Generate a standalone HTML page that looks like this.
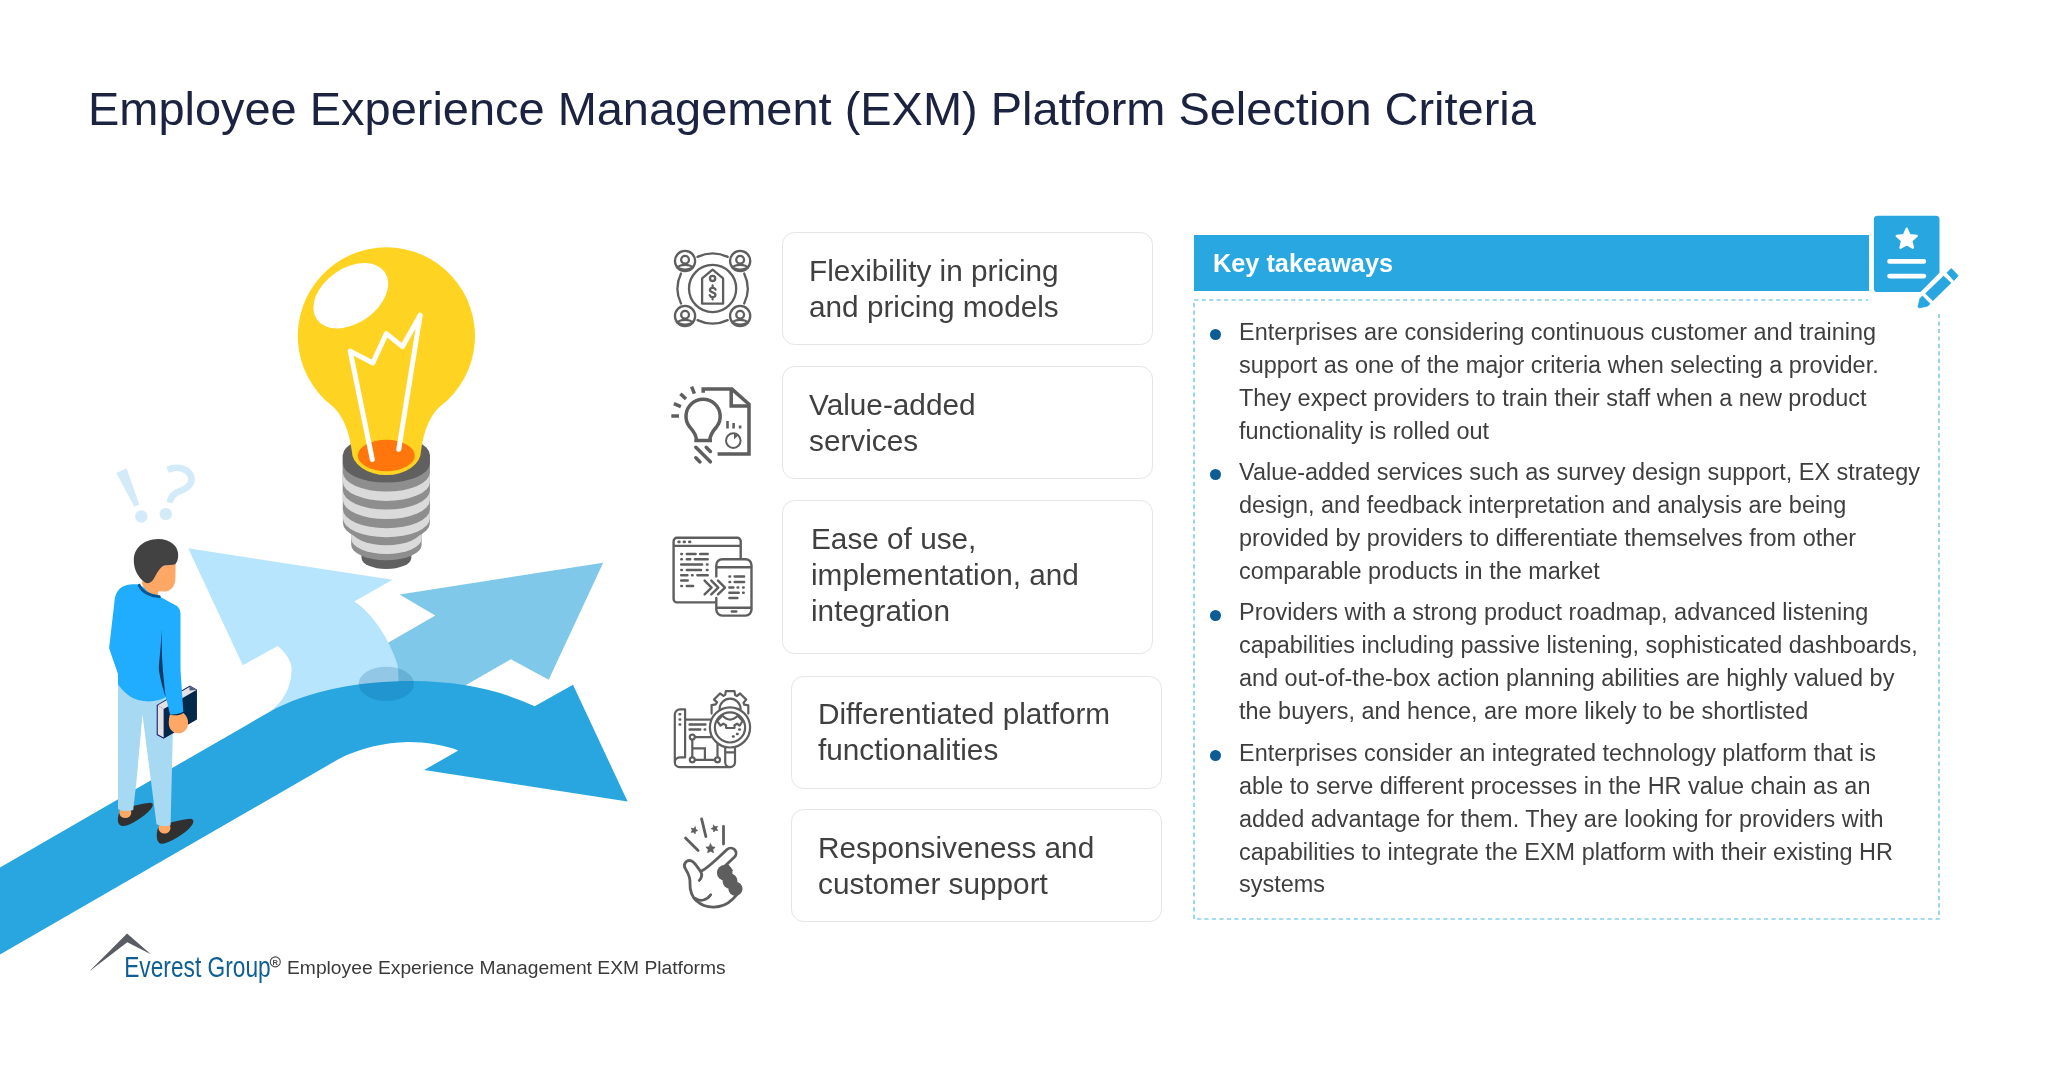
<!DOCTYPE html>
<html>
<head>
<meta charset="utf-8">
<title>EXM Platform Selection Criteria</title>
<style>
*{margin:0;padding:0;box-sizing:border-box;}
html,body{width:2048px;height:1072px;background:#fff;overflow:hidden;}
body{font-family:"Liberation Sans",sans-serif;position:relative;color:#3d3d3d;}
#title,.box .t,.bl,#foot,#hdr span,#logo{will-change:transform;}
.abs{position:absolute;}
#title{left:88px;top:82px;font-size:46.95px;line-height:54px;color:#1b2341;white-space:nowrap;}
.box{position:absolute;width:371px;border:1.5px solid #e5e5e5;border-radius:12.5px;background:#fff;}
.box .t{position:absolute;left:26px;font-size:29.75px;line-height:36px;color:#404040;white-space:nowrap;}
#hdr{left:1194px;top:235px;width:675px;height:56px;background:#29a7e1;}
#hdr span{position:absolute;left:19px;top:13px;font-size:25.3px;line-height:30px;font-weight:bold;color:#fff;white-space:nowrap;}
#dash{left:1193px;top:299px;width:747px;height:621px;}
.bl{position:absolute;left:1239px;font-size:23.45px;line-height:32.85px;color:#3e3e3e;white-space:nowrap;}
.dot{position:absolute;left:1210px;width:11px;height:11px;border-radius:50%;background:#0d5c94;}
#foot{left:287px;top:955.6px;font-size:19.26px;line-height:24px;color:#3a3a3a;white-space:nowrap;}
</style>
</head>
<body>
<div id="title" class="abs">Employee Experience Management (EXM) Platform Selection Criteria</div>

<!-- ILLUSTRATION -->
<svg id="illus" class="abs" style="left:0;top:200px" width="660" height="800" viewBox="0 200 660 800">
<path d="M603.2,562.7 L399.5,594.4 L435.3,615.4 L372,652 L372,700 L440,700 L510.9,659.3 L548.7,679.7 Z" fill="#80c8ea"/>
<path d="M188.2,548.2 L392.5,579.8 L354.2,601.4 C372,612 390,640 397.3,664.3 C399,672 398.5,690 398,700 L250,723 L269.4,711.9 C283,702 291,688 291.7,669.9 C291.5,661 286,653 277.8,646.1 L242.8,665.2 Z" fill="#b6e5fd"/>
<path d="M-5,870.3 L269.4,711.9 C310,690 360,681 413.5,681.1 C460,681.5 500,690 534.7,706.3 L573,684.8 L627.6,801.5 L424.1,770.1 L458.3,750.5 C445,745.5 425,742 407.9,742.1 C385,742.5 360,748 337.9,759.5 L-5,957.5 Z" fill="#29a6e0"/>
<ellipse cx="386.3" cy="683.9" rx="27.7" ry="17.1" fill="#07558c" opacity="0.2"/>
<path d="M361.5,540 V558.1 A24.9,10.9 0 0 0 411.3,558.1 V540 Z" fill="#606060"/>
<path d="M351.2,525 V544.9 A35.2,15.4 0 0 0 421.6,544.9 V525 Z" fill="#8e8e8e"/>
<path d="M351.2,525 V538.6 A35.2,15.4 0 0 0 421.6,538.6 V525 Z" fill="#dadada"/>
<path d="M351.2,520 V529.9 A35.2,15.4 0 0 0 421.6,529.9 V520 Z" fill="#8e8e8e"/>
<path d="M342.9,455 V523.0 A43.5,19.0 0 0 0 429.9,523.0 V455 Z" fill="#8e8e8e"/>
<path d="M342.9,455 V518.3 A43.5,19.0 0 0 0 429.9,518.3 V455 Z" fill="#dadada"/>
<path d="M342.9,455 V509.3 A43.5,19.0 0 0 0 429.9,509.3 V455 Z" fill="#8e8e8e"/>
<path d="M342.9,455 V500.1 A43.5,19.0 0 0 0 429.9,500.1 V455 Z" fill="#dadada"/>
<path d="M342.9,455 V490.6 A43.5,19.0 0 0 0 429.9,490.6 V455 Z" fill="#8e8e8e"/>
<path d="M342.9,455 V481.9 A43.5,19.0 0 0 0 429.9,481.9 V455 Z" fill="#dadada"/>
<path d="M342.9,455 V472.6 A43.5,19.0 0 0 0 429.9,472.6 V455 Z" fill="#8e8e8e"/>
<path d="M342.9,455 V463.6 A43.5,19.0 0 0 0 429.9,463.6 V455 Z" fill="#606060"/>
<ellipse cx="386.4" cy="455" rx="43.5" ry="19.0" fill="#606060"/>
<path d="M331.9,405.8 A88.6,88.6 0 1 1 440.9,405.8 C431.4,413.2 423.5,430 421,451 A34.6,24.1 0 0 1 351.8,451 C349.3,430 341.4,413.2 331.9,405.8 Z" fill="#ffd321"/>
<ellipse cx="350.8" cy="295.7" rx="41.4" ry="27.5" transform="rotate(-35 350.8 295.7)" fill="#fff"/>
<ellipse cx="386.3" cy="455.5" rx="28.5" ry="15.7" fill="#ff770c"/>
<path d="M372.3,459.6 L350.2,351.1 L372.8,363 L386.3,333.6 L402.5,346.6 L420.2,315.2 L398.8,449.3" fill="none" stroke="#fff" stroke-width="5" stroke-linecap="round" stroke-linejoin="round"/>
<path d="M116.3,473 L126.6,468.2 L139.2,504.6 L134.4,506.8 Z" fill="#d3eaf8"/>
<circle cx="141.3" cy="516.5" r="6.2" fill="#d3eaf8"/>
<path d="M167.6,469.8 C172,467.8 178,467.2 183,468.8 C190,471 193.5,478 190.5,483.5 C187.5,489 181,490.5 176.5,492.7 C172.5,494.7 170.6,498 169.7,502.6" fill="none" stroke="#d3eaf8" stroke-width="6.6"/>
<circle cx="165.8" cy="514.1" r="6.2" fill="#d3eaf8"/>
<path d="M119.5,812 C125,808 140,803.5 150,802.8 C155,803 153,808 147,813 C139,820 127,827 122,826 C117,825 117,818 119.5,812 Z" fill="#303030"/>
<path d="M158,828 C164,824 180,819.5 190,818.8 C196,819 193.5,825 187,830.5 C179,837.5 166,844.5 161,843.7 C156,842.5 156,834 158,828 Z" fill="#303030"/>
<ellipse cx="125.3" cy="812.5" rx="6" ry="5.5" fill="#ffa866"/>
<ellipse cx="164.5" cy="828" rx="6" ry="5.5" fill="#ffa866"/>
<path d="M118,680 L118,809 C123,811.5 129,811.5 133.2,810 L136.6,780 L142.5,714.6 L156.5,824.3 C161,826.5 166.5,826.5 170.6,825.2 L172.8,733 L172,690 Z" fill="#a8d9f2"/>
<path d="M156.7,705 L189.9,685.6 L196.9,689.5 L196.9,719.5 L163.5,738.8 L156.7,734.9 Z" fill="#1a1f6b"/>
<path d="M157.8,705.3 L190.3,686.4 L196.4,689.9 L163.6,708.9 Z" fill="#e2e2e2"/>
<path d="M157.8,705.3 L163.6,708.9 L163.6,737.6 L157.8,734.2 Z" fill="#e2e2e2"/>
<path d="M190.3,686.4 L189.5,687 L189.5,690.5 L196.4,689.9 Z" fill="#45607a"/>
<path d="M164.6,709.3 L196.6,690.6 L196.6,719.2 L164.6,737.8 Z" fill="#03294a"/>
<path d="M139,584.6 C133,583.6 124,584.5 119.5,589 C115.5,593 114.7,598 114.3,603 L109.1,648.3 L118,673.9 L118,684.3 C124,693 131,698 138,700 C147,702.3 158,702 165.8,697.1 L170,714.2 C174,714.8 179.5,714 183.3,711.8 L180.5,670 L180.5,613.3 C180,608.5 177.5,606 175.1,605.1 L159.5,596.5 Z" fill="#20adff"/>
<path d="M161.7,629 C161.2,645 159.3,660 158.8,668 C160,680 163.5,690 165.6,697 C163.8,680 162.3,665 162,655 Z" fill="#063a66"/>
<path d="M170,714.5 C175,716 180,715.5 183.5,713 C187,716 188.5,720 188,724 C187.5,730 183,733.5 178,733.3 C172.5,733 169,729 168.8,723.5 C168.7,719.5 169.3,716.5 170,714.5 Z" fill="#ffa866"/>
<path d="M141.8,583 L147,570 L175.6,563 L175.4,578 C175.4,587 170,591.6 163.5,591.6 L158.5,591.3 L157.8,595.6 C150,594.5 144,590 141.8,583 Z" fill="#ffa866"/>
<path d="M139.2,585.3 C142,592 150,596.2 159.3,596.6" fill="none" stroke="#06568f" stroke-width="2.9" stroke-linecap="round"/>
<path d="M158,539.1 C170,539 178.5,546 178.2,555.5 C178.1,559.5 177,562.5 175.1,564.3 C172,565.3 168,565.2 164.6,565.5 C159,567 156.5,575 153,580 C151,583 147.5,584 145,582.5 C138,577.5 133.5,569 133.8,560 C134,548 144,539.3 158,539.1 Z" fill="#424242"/>
</svg>

<!-- BOXES -->
<div class="box" style="left:782px;top:232px;height:113px;"><div class="t" style="top:19.5px;">Flexibility in pricing<br>and pricing models</div></div>
<div class="box" style="left:782px;top:366px;height:113px;"><div class="t" style="top:19.5px;">Value-added<br>services</div></div>
<div class="box" style="left:782px;top:500px;height:154px;"><div class="t" style="left:27.5px;top:20px;">Ease of use,<br>implementation, and<br>integration</div></div>
<div class="box" style="left:790.5px;top:675.5px;height:113px;"><div class="t" style="left:26.5px;top:19.5px;">Differentiated platform<br>functionalities</div></div>
<div class="box" style="left:790.5px;top:809px;height:113px;"><div class="t" style="left:26.5px;top:19.5px;">Responsiveness and<br>customer support</div></div>

<!-- ICONS -->
<svg id="icons" class="abs" style="left:660px;top:230px" width="110" height="700" viewBox="660 230 110 700" fill="none" stroke="#5e5e5e" stroke-width="2.4" stroke-linecap="round" stroke-linejoin="round">
<g stroke-width="2.3">
<circle cx="712.6" cy="288.5" r="23.6"/>
<path d="M697.53,256.91 A35,35 0 0 1 727.67,256.91"/>
<path d="M744.19,273.43 A35,35 0 0 1 744.19,303.57"/>
<path d="M727.67,320.09 A35,35 0 0 1 697.53,320.09"/>
<path d="M681.01,303.57 A35,35 0 0 1 681.01,273.43"/>
<g transform="translate(685.05,261)"><circle r="10.1"/><circle cx="0" cy="-1.3" r="3.9"/><path d="M-7.5,6.7 C-6.4,4.6 -3.6,3.8 0,3.8 C3.6,3.8 6.4,4.6 7.5,6.7"/><path d="M-5.3,7.2 Q0,9.6 5.3,7.2" stroke-width="1.7"/></g>
<g transform="translate(740.15,261)"><circle r="10.1"/><circle cx="0" cy="-1.3" r="3.9"/><path d="M-7.5,6.7 C-6.4,4.6 -3.6,3.8 0,3.8 C3.6,3.8 6.4,4.6 7.5,6.7"/><path d="M-5.3,7.2 Q0,9.6 5.3,7.2" stroke-width="1.7"/></g>
<g transform="translate(685.05,316)"><circle r="10.1"/><circle cx="0" cy="-1.3" r="3.9"/><path d="M-7.5,6.7 C-6.4,4.6 -3.6,3.8 0,3.8 C3.6,3.8 6.4,4.6 7.5,6.7"/><path d="M-5.3,7.2 Q0,9.6 5.3,7.2" stroke-width="1.7"/></g>
<g transform="translate(740.15,316)"><circle r="10.1"/><circle cx="0" cy="-1.3" r="3.9"/><path d="M-7.5,6.7 C-6.4,4.6 -3.6,3.8 0,3.8 C3.6,3.8 6.4,4.6 7.5,6.7"/><path d="M-5.3,7.2 Q0,9.6 5.3,7.2" stroke-width="1.7"/></g>
<path d="M712.6,269.7 L723.1,278.4 V303.7 H702.1 V278.4 Z"/>
<circle cx="712.6" cy="278.4" r="2.6"/>
<path d="M715.6,289.8 C714.8,287.1 710.2,287.1 709.9,290 C709.7,293 715.6,291.7 715.5,295 C715.3,297.9 710.6,297.8 709.6,295.2 M712.6,285.3 V287.3 M712.6,297.4 V299.4" stroke-width="2.2"/>
</g>
<g stroke-width="3.5" stroke-linecap="butt" stroke-linejoin="miter">
<path d="M703.2,392.8 V389.1 H731.9 L749,404.2 V454.1 H717.6"/>
<path d="M731.2,389.5 V406 H749"/>
<path d="M696.5,440.4 C696.3,434 692.8,430.5 689.6,426.8 A17.1,17.1 0 1 1 716.6,426.8 C713.4,430.5 710,434 709.8,440.4 M694.3,440.4 H712" stroke-linejoin="round"/>
<path d="M671.3,415.9 H679 M673.9,403.7 L680.9,406.7 M680.4,393.7 L686,399.1 M691.6,386.7 L694.4,393.7"/>
<path d="M695.8,447.3 L710.4,461.8 M706.2,447.3 L710.4,451.5 M695.8,457.8 L700,461.9" stroke-linecap="round"/>
<path d="M727.5,420.9 V428.6 M733.6,423 V428.6 M740.1,425.4 V428.6" stroke-width="2.6"/>
<circle cx="733.3" cy="440.6" r="7.3" stroke-width="2"/>
<path d="M734,433.6 V439.6 L738.1,435.5 Z" fill="#5e5e5e" stroke="none"/>
</g>
<g stroke-width="2.4">
<path d="M740.7,558 V541.2 a3.4,3.4 0 0 0 -3.4,-3.4 H677 a3.4,3.4 0 0 0 -3.4,3.4 V599 a3.4,3.4 0 0 0 3.4,3.4 H715.6"/>
<path d="M673.6,545.9 H740.7" stroke-linecap="butt"/>
<path d="M678.6,541.9 h0.8 M683.9,541.9 h0.8 M689.3,541.9 h0.8" stroke-width="2.6"/>
<path d="M681.3000000000001,553.9 h0.6 M686.8,553.9 H695.6 M700.2,553.9 H707.7 M681.3000000000001,559.2 h0.6 M686.8,559.2 H690.2 M694.9,559.2 H707.7 M681.2,564.6 H702.1 M706.9000000000001,564.6 h0.6 M681.3000000000001,569.9 h0.6 M686.8,569.9 H701 M706.9000000000001,569.9 h0.6 M681.2,575.3 H687.4 M692.0,575.3 h0.6 M697.4,575.3 H707.7 M681.2,580.6 H687.7 M681.3000000000001,586.0 h0.6 M686.8,586.0 H693.1 M729.5,576.6 h0.6 M734.7,576.6 H744.1 M729.5,582.0 h0.6 M734.7,582.0 H744.1 M729.4,587.4 H733.4 M737.6,587.4 h0.6 M743.1,587.4 h0.6 M729.4,592.8 H738.7 M743.1,592.8 h0.6 M729.4,598.1 H737.4 " stroke-width="2.5"/>
<path d="M704.6,580.6 L711.6,587.6 L704.6,594.4"/>
<path d="M711.3000000000001,580.6 L718.3000000000001,587.6 L711.3000000000001,594.4"/>
<path d="M718.0,580.6 L725.0,587.6 L718.0,594.4"/>
<path d="M716.3,576.4 V565.2 a6,6 0 0 1 6,-6 H745.5 a6,6 0 0 1 6,6 V609.6 a6,6 0 0 1 -6,6 H722.3 a6,6 0 0 1 -6,-6 V597.9"/>
<path d="M716.3,567.3 H751.5 M716.3,607.7 H751.5" stroke-linecap="butt"/>
<path d="M731.9,611.5 H736.2" stroke-width="2.6"/>
</g>
<g stroke-width="2.2">
<path d="M685.1,709.4 H680 a5.2,5.2 0 0 0 -5.2,5.2 V762.3 a4.9,4.9 0 0 0 4.9,4.9 H730.1 a4.9,4.9 0 0 0 4.9,-4.9 V748.5 M685.1,709.4 V757.4 H679.9 a5,5 0 0 0 -5.1,5"/>
<path d="M679.6,714.2 h0.6 M679.6,719.4 h0.6 M679.6,724.6 h0.6" stroke-width="2.5"/>
<path d="M685.1,719.6 H711.2" stroke-linecap="butt"/>
<path d="M689.6,724.6 H705.4 M689.6,729.4 H700.2 M704.7,729.4 h0.5" stroke-width="2.5"/>
<circle cx="692.3" cy="737.1" r="2.5"/>
<circle cx="692.3" cy="759.8" r="2.5"/>
<circle cx="717.5" cy="759.8" r="2.5"/>
<path d="M695,737.1 H711.8 M692.3,739.8 V757.1 M695,759.8 H714.8 M717.5,757.1 V743.6 M692.3,748.4 H704.9 V759.8" stroke-linecap="butt" stroke-linejoin="miter"/>
<circle cx="730" cy="727.4" r="20.1"/>
<circle cx="730" cy="727.4" r="15.1"/>
<path d="M725.2,747 V762.3 a4.9,4.9 0 0 0 4.9,4.9 M725.2,752.3 H735" stroke-linecap="butt"/>
<path d="M711.6,713.6 L711.6,705.2 L715.8,704.3 L717.0,702.2 L714.0,699.6 L720.0,693.5 L723.5,695.9 L725.2,694.9 L725.8,691.2 L734.5,691.2 L735.1,695.1 L736.8,696.0 L740.1,693.5 L746.2,699.6 L743.5,702.9 L744.3,704.7 L748.3,705.4 L748.3,713.6" stroke-linejoin="round"/>
<path d="M719.6,709.1 A10.5,10.5 0 0 1 740.6,709.1"/>
<path d="M721.2,716.7 L717.2,721.0 L720.5,725.7 L723.3,723.7 L726.1,725.2 L726.1,728.0 L734.5,728.0 L734.5,725.2 L737.0,723.7 L739.6,725.7 L742.6,721.0 L738.7,716.7" stroke-linejoin="round"/>
<path d="M722.1,715.3 Q730.0,723.9 738.2,715.3"/>
<path d="M739.3,729.4 h0.6" stroke-width="2.5"/>
<path d="M737.0,733.9 h0.6" stroke-width="2.5"/>
<path d="M733.0,736.4 h0.6" stroke-width="2.5"/>
</g>
<g stroke-width="2.8">
<path d="M685.5,838.0 L698.1,850.6 M701.6,818.9 L705.9,836.6 M723.5,826.3 L723.5,844.0"/>
<path d="M695.32,827.00 L695.57,829.34 L697.65,830.46 L695.50,831.43 L695.08,833.74 L693.50,832.00 L691.17,832.32 L692.33,830.27 L691.31,828.15 L693.62,828.63 Z" fill="#5e5e5e" stroke="#5e5e5e" stroke-width="0.8" stroke-linejoin="round"/>
<path d="M713.51,825.14 L715.21,826.77 L717.51,826.29 L716.49,828.41 L717.66,830.45 L715.33,830.14 L713.74,831.88 L713.32,829.56 L711.18,828.59 L713.25,827.48 Z" fill="#5e5e5e" stroke="#5e5e5e" stroke-width="0.8" stroke-linejoin="round"/>
<path d="M710.52,843.86 L711.95,846.75 L715.14,847.21 L712.83,849.46 L713.37,852.64 L710.52,851.14 L707.67,852.64 L708.22,849.46 L705.91,847.21 L709.10,846.75 Z" fill="#5e5e5e" stroke="#5e5e5e" stroke-width="0.8" stroke-linejoin="round"/>
<circle cx="724.7" cy="872.7" r="7.8" fill="#5e5e5e" stroke="none"/>
<circle cx="730.0" cy="881.1" r="7.5" fill="#5e5e5e" stroke="none"/>
<circle cx="735.4" cy="888.8" r="7.1" fill="#5e5e5e" stroke="none"/>
<path d="M719.6,871.1 L727.7,863.4 L733.1,870.6 L724.7,877.2 Z" fill="#5e5e5e" stroke="none"/>
<path d="M719.6,871.1 L734.5,857.1 A5.2,5.2 0 0 0 727.0,849.6 C717.2,859.0 705.1,870.6 700.7,871.3 C698.6,869.7 695.8,863.2 691.6,861.1 C687.4,859.0 682.7,863.2 685.1,868.3 C687.4,872.0 690.7,876.7 690.0,883.7 C689.7,890.2 692.1,897.7 696.7,901.0 C704.2,907.9 721.0,910.7 732.2,899.6 L740.1,891.2"/>
<path d="M700.7,871.3 C702.3,874.4 701.4,878.1 699.3,880.4"/>
<path d="M710.7,894.7 C707.0,900.0 700.4,902.4 694.9,898.2"/>
</g>
</svg>

<!-- KEY TAKEAWAYS -->
<div id="hdr" class="abs"><span>Key takeaways</span></div>
<svg id="dash" class="abs" viewBox="0 0 747 621"><path d="M1 620 V1 H675 M746 15 V620 H1" fill="none" stroke="#86cfee" stroke-width="1.7" stroke-dasharray="4.2 3.26"/></svg>
<svg id="note" class="abs" style="left:1868px;top:210px" width="100" height="105" viewBox="1868 210 100 105">
<path d="M1877.5,215.8 H1935.9 a3.6,3.6 0 0 1 3.6,3.6 V272.7 L1920.5,292 H1877.5 a3.6,3.6 0 0 1 -3.6,-3.6 V219.4 a3.6,3.6 0 0 1 3.6,-3.6 Z" fill="#27a6e0"/>
<path d="M1906.70,228.60 L1909.63,235.17 L1916.78,235.92 L1911.44,240.74 L1912.93,247.78 L1906.70,244.18 L1900.47,247.78 L1901.96,240.74 L1896.62,235.92 L1903.77,235.17 Z" fill="#fff" stroke="#fff" stroke-width="2.2" stroke-linejoin="round"/>
<path d="M1889.5,261.4 H1923.9 M1889.5,276.1 H1923.9" stroke="#fff" stroke-width="4.6" stroke-linecap="round" fill="none"/>
<path d="M1943.6,275.8 L1951.3,283 L1932.9,300.9 L1925.2,293.5 Z" fill="#27a6e0"/>
<path d="M1951.3,268.6 L1958,275.6 L1953.9,280.4 L1947,272.7 Z" fill="#27a6e0" stroke="#27a6e0" stroke-width="1" stroke-linejoin="round"/>
<path d="M1922.4,296.1 L1930,303.7 L1927.7,306.1 L1919,307.9 L1918,306.6 L1920,298.6 Z" fill="#27a6e0" stroke="#27a6e0" stroke-width="0.8" stroke-linejoin="round"/>
</svg>

<div class="dot" style="top:328.8px"></div>
<div class="bl" style="top:315.7px">Enterprises are considering continuous customer and training<br>support as one of the major criteria when selecting a provider.<br>They expect providers to train their staff when a new product<br>functionality is rolled out</div>
<div class="dot" style="top:469.2px"></div>
<div class="bl" style="top:456.1px">Value-added services such as survey design support, EX strategy<br>design, and feedback interpretation and analysis are being<br>provided by providers to differentiate themselves from other<br>comparable products in the market</div>
<div class="dot" style="top:609.5px"></div>
<div class="bl" style="top:596.4px">Providers with a strong product roadmap, advanced listening<br>capabilities including passive listening, sophisticated dashboards,<br>and out-of-the-box action planning abilities are highly valued by<br>the buyers, and hence, are more likely to be shortlisted</div>
<div class="dot" style="top:750.3px"></div>
<div class="bl" style="top:737.2px">Enterprises consider an integrated technology platform that is<br>able to serve different processes in the HR value chain as an<br>added advantage for them. They are looking for providers with<br>capabilities to integrate the EXM platform with their existing HR<br>systems</div>

<!-- FOOTER -->
<svg id="logo" class="abs" style="left:84px;top:928px" width="200" height="62" viewBox="84 928 200 62">
<path d="M89.1,971.6 L127.05,933.4 L150.9,954.2 L127.3,942.3 Z" fill="#595c63"/>
<text x="0" y="0" transform="translate(124.2,977.1) scale(0.784,1)" font-family="Liberation Sans, sans-serif" font-size="29" fill="#0f5f93">Everest Group</text>
<circle cx="275.3" cy="961.9" r="5" fill="none" stroke="#4a4a4a" stroke-width="1.1"/>
<text x="275.3" y="964.6" text-anchor="middle" font-family="Liberation Sans, sans-serif" font-size="7.5" font-weight="bold" fill="#4a4a4a">R</text>
</svg>
<div id="foot" class="abs">Employee Experience Management EXM Platforms</div>
</body>
</html>
